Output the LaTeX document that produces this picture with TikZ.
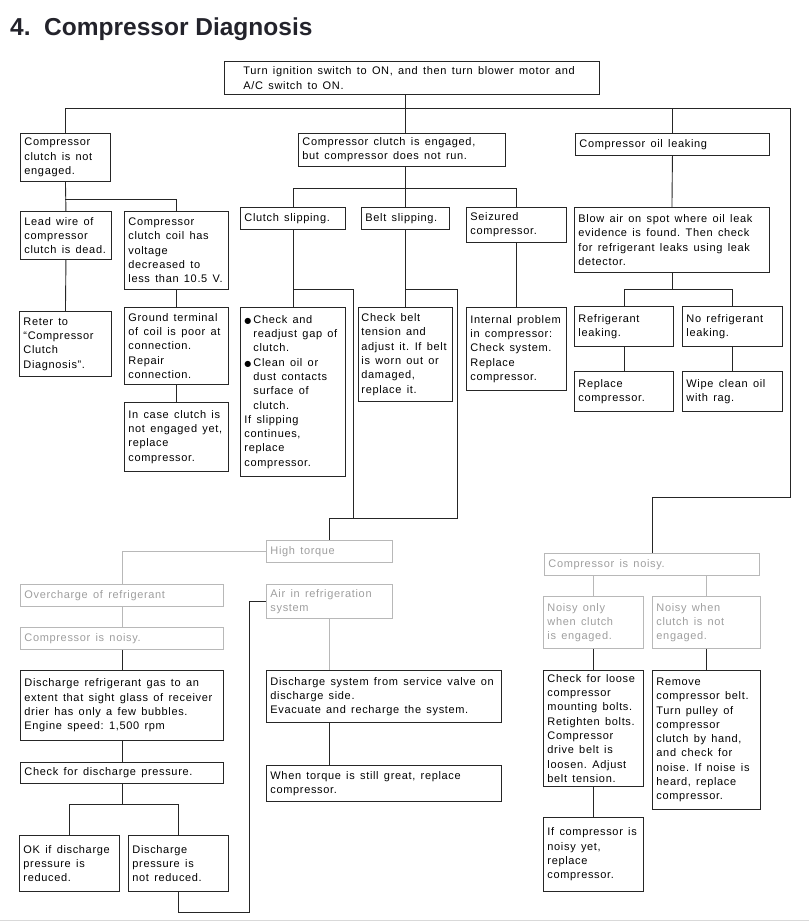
\documentclass[tikz,border=0pt]{standalone}
\usepackage{fontspec}
\setmainfont{Liberation Sans}
\newfontfamily\boxfont{Liberation Sans}[LetterSpace=6]
\newfontfamily\dotfont{DejaVu Sans}
\definecolor{titleink}{HTML}{23232B}
\definecolor{fadetext}{gray}{0.62}
\definecolor{fadeline}{gray}{0.72}
\newcommand{\dotbul}{\makebox[9pt][l]{\dotfont\fontsize{8}{8}\selectfont ●}}
\newcommand{\gapind}{\hspace*{9pt}}

\begin{document}
\begin{tikzpicture}[x=1pt, y=-1pt,
    box/.style={draw=black!85, line width=0.9pt, anchor=north west, align=left,
      inner xsep=4pt, inner ysep=2pt, font=\boxfont\fontsize{11}{14.3}\selectfont,
      execute at begin node={\spaceskip=5.3pt plus 1pt\relax}},
    fadebox/.style={box, draw=fadeline, text=fadetext},
    link/.style={draw=black!85, line width=0.9pt},
    fadelink/.style={draw=fadeline, line width=0.9pt}]
    % Fix the page size
    \useasboundingbox (0,0) rectangle (809,923);

    % Title
    \node[anchor=north west, inner sep=0pt, text=titleink,
      font=\bfseries\fontsize{24.5}{28}\selectfont] (title) at (10,18) {4.\ \ Compressor Diagnosis};

    % Start of the chart
    \node[box, inner xsep=19pt, text width=337pt, minimum height=33pt] (start) at (224,61)
      {Turn ignition switch to ON, and then turn blower motor and\\A/C switch to ON.};

    % Three symptoms
    \node[box, text width=82pt, minimum height=48pt] (notengaged) at (20,133)
      {Compressor\\clutch is not\\engaged.};
    \node[box, text width=199pt, minimum height=33pt] (engaged) at (298,133)
      {Compressor clutch is engaged,\\but compressor does not run.};
    \node[box, text width=186pt, minimum height=22pt] (oilleak) at (575,133)
      {Compressor oil leaking};

    % Clutch not engaged
    \node[box, text width=83pt, minimum height=48pt] (leadwire) at (20,211)
      {Lead wire of\\compressor\\clutch is dead.};
    \node[box, text width=96pt, minimum height=78pt] (coilvolt) at (124,211)
      {Compressor\\clutch coil has\\voltage\\decreased to\\less than 10.5 V.};
    \node[box, text width=84pt, minimum height=65pt] (referto) at (19,311)
      {Reter to\\“Compressor\\Clutch\\Diagnosis”.};
    \node[box, text width=96pt, minimum height=77pt] (groundterm) at (124,307)
      {Ground terminal\\of coil is poor at\\connection.\\Repair\\connection.};
    \node[box, text width=96pt, minimum height=69pt] (incase) at (124,402)
      {In case clutch is\\not engaged yet,\\replace\\compressor.};

    % Compressor does not run
    \node[box, text width=97pt, minimum height=22pt] (clutchslip) at (240,207)
      {Clutch slipping.};
    \node[box, text width=80pt, minimum height=22pt] (beltslip) at (361,207)
      {Belt slipping.};
    \node[box, text width=92pt, minimum height=35pt] (seized) at (466,207)
      {Seizured\\compressor.};
    \node[box, text width=97pt, minimum height=169pt] (checkgap) at (240,307)
      {\dotbul Check and\\\gapind readjust gap of\\\gapind clutch.\\\dotbul Clean oil or\\\gapind dust contacts\\\gapind surface of\\\gapind clutch.\\If slipping\\continues,\\replace\\compressor.};
    \node[box, inner xsep=3pt, text width=88pt, minimum height=94pt] (checkbelt) at (358,307)
      {Check belt\\tension and\\adjust it. If belt\\is worn out or\\damaged,\\replace it.};
    \node[box, text width=92pt, minimum height=83pt] (internal) at (466,307)
      {Internal problem\\in compressor:\\Check system.\\Replace\\compressor.};

    % Oil leaking
    \node[box, text width=187pt, minimum height=65pt] (blowair) at (574,207)
      {Blow air on spot where oil leak\\evidence is found. Then check\\for refrigerant leaks using leak\\detector.};
    \node[box, text width=91pt, minimum height=40pt] (refleak) at (574,306)
      {Refrigerant\\leaking.};
    \node[box, text width=92pt, minimum height=40pt] (norefleak) at (682,306)
      {No refrigerant\\leaking.};
    \node[box, text width=91pt, minimum height=40pt] (replace) at (574,371)
      {Replace\\compressor.};
    \node[box, text width=92pt, minimum height=40pt] (wipe) at (682,371)
      {Wipe clean oil\\with rag.};

    % High torque
    \node[fadebox, text width=118pt, minimum height=22pt] (hightorque) at (266,540)
      {High torque};
    \node[fadebox, text width=195pt, minimum height=22pt] (overcharge) at (20,584)
      {Overcharge of refrigerant};
    \node[fadebox, text width=195pt, minimum height=22pt] (noisyleft) at (20,627)
      {Compressor is noisy.};
    \node[box, text width=195pt, minimum height=70pt] (dischgas) at (20,670)
      {Discharge refrigerant gas to an\\extent that sight glass of receiver\\drier has only a few bubbles.\\Engine speed: 1,500 rpm};
    \node[box, text width=195pt, minimum height=21pt] (checkpress) at (20,762)
      {Check for discharge pressure.};
    \node[box, text width=92pt, minimum height=56pt] (pressok) at (19,835)
      {OK if discharge\\pressure is\\reduced.};
    \node[box, text width=92pt, minimum height=56pt] (pressnot) at (128,835)
      {Discharge\\pressure is\\not reduced.};
    \node[fadebox, text width=118pt, minimum height=34pt] (airin) at (266,584)
      {Air in refrigeration\\system};
    \node[box, text width=227pt, minimum height=52pt] (dischsys) at (266,670)
      {Discharge system from service valve on\\discharge side.\\Evacuate and recharge the system.};
    \node[box, text width=227pt, minimum height=36pt] (torque) at (266,765)
      {When torque is still great, replace\\compressor.};

    % Noisy compressor
    \node[fadebox, text width=207pt, minimum height=22pt] (noisyright) at (544,553)
      {Compressor is noisy.};
    \node[fadebox, text width=92pt, minimum height=52pt] (noisyon) at (543,596)
      {Noisy only\\when clutch\\is engaged.};
    \node[fadebox, text width=100pt, minimum height=52pt] (noisyoff) at (652,596)
      {Noisy when\\clutch is not\\engaged.};
    \node[box, text width=92pt, minimum height=116pt] (loosebolts) at (543,670)
      {Check for loose\\compressor\\mounting bolts.\\Retighten bolts.\\Compressor\\drive belt is\\loosen. Adjust\\belt tension.};
    \node[box, text width=100pt, minimum height=139pt] (removebelt) at (652,670)
      {Remove\\compressor belt.\\Turn pulley of\\compressor\\clutch by hand,\\and check for\\noise. If noise is\\heard, replace\\compressor.};
    \node[box, text width=92pt, minimum height=74pt] (noisyyet) at (543,817)
      {If compressor is\\noisy yet,\\replace\\compressor.};

    % Top bus
    \draw[link] (start.south -| beltslip.north) -- (engaged.north -| beltslip.north);
    \draw[link] (notengaged.north) |- (790,108) -- (790,497) -| (noisyright.north);
    \draw[link] (oilleak.north) -- (oilleak.north |- 0,108);

    % Clutch not engaged branch
    \draw[link] (notengaged.south) -- (leadwire.north);
    \draw[link] (notengaged.south |- 0,199) -| (coilvolt.north);
    \draw[link] (leadwire.south) -- (referto.north);
    \draw[link] (coilvolt.south) -- (groundterm.north);
    \draw[link] (groundterm.south) -- (incase.north);

    % Does not run branch
    \draw[link] (beltslip.north |- engaged.south) -- (beltslip.north);
    \draw[link] (clutchslip.north) |- (seized.north |- 0,188) -- (seized.north);
    \draw[link] (clutchslip.south) -- (checkgap.north);
    \draw[link] (beltslip.south) -- (checkbelt.north);
    \draw[link] (seized.south) -- (internal.north);

    % Slipping goes on to high torque
    \coordinate (torquejoin) at (hightorque.north |- 0,518);
    \draw[link] (clutchslip.south |- 0,289) -| (353,518) -- (torquejoin) -- (hightorque.north);
    \draw[link] (beltslip.south |- 0,289) -| (457,518) -- (353,518);

    % Oil leak branch
    \draw[link] (oilleak.south) -- (blowair.north);
    \draw[link] (blowair.south) -- (blowair.south |- 0,289);
    \draw[link] (refleak.north) |- (norefleak.north |- 0,289) -- (norefleak.north);
    \draw[link] (refleak.south) -- (replace.north);
    \draw[link] (norefleak.south) -- (wipe.north);

    % High torque causes
    \draw[fadelink] (hightorque.west) -| (overcharge.north);
    \draw[fadelink] (overcharge.south) -- (noisyleft.north);
    \draw[link] (noisyleft.south) -- (dischgas.north);
    \draw[link] (dischgas.south) -- (checkpress.north);
    \draw[link] (checkpress.south) -- (checkpress.south |- 0,804);
    \draw[link] (pressok.north) |- (pressnot.north |- 0,804) -- (pressnot.north);
    \draw[link] (pressnot.south) |- (249,912) |- (airin.west);
    \draw[fadelink] (airin.south) -- (airin.south |- dischsys.north);
    \draw[link] (airin.south |- dischsys.south) -- (airin.south |- torque.north);

    % Noise branch
    \draw[fadelink] (noisyon.north |- noisyright.south) -- (noisyon.north);
    \draw[fadelink] (noisyoff.north |- noisyright.south) -- (noisyoff.north);
    \draw[link] (noisyon.south) -- (loosebolts.north);
    \draw[link] (noisyoff.south) -- (removebelt.north);
    \draw[link] (loosebolts.south) -- (noisyyet.north);

    % Page rule at the foot
    \draw[black!15, line width=1pt] (0,920) -- (809,920);
\end{tikzpicture}
\end{document}
